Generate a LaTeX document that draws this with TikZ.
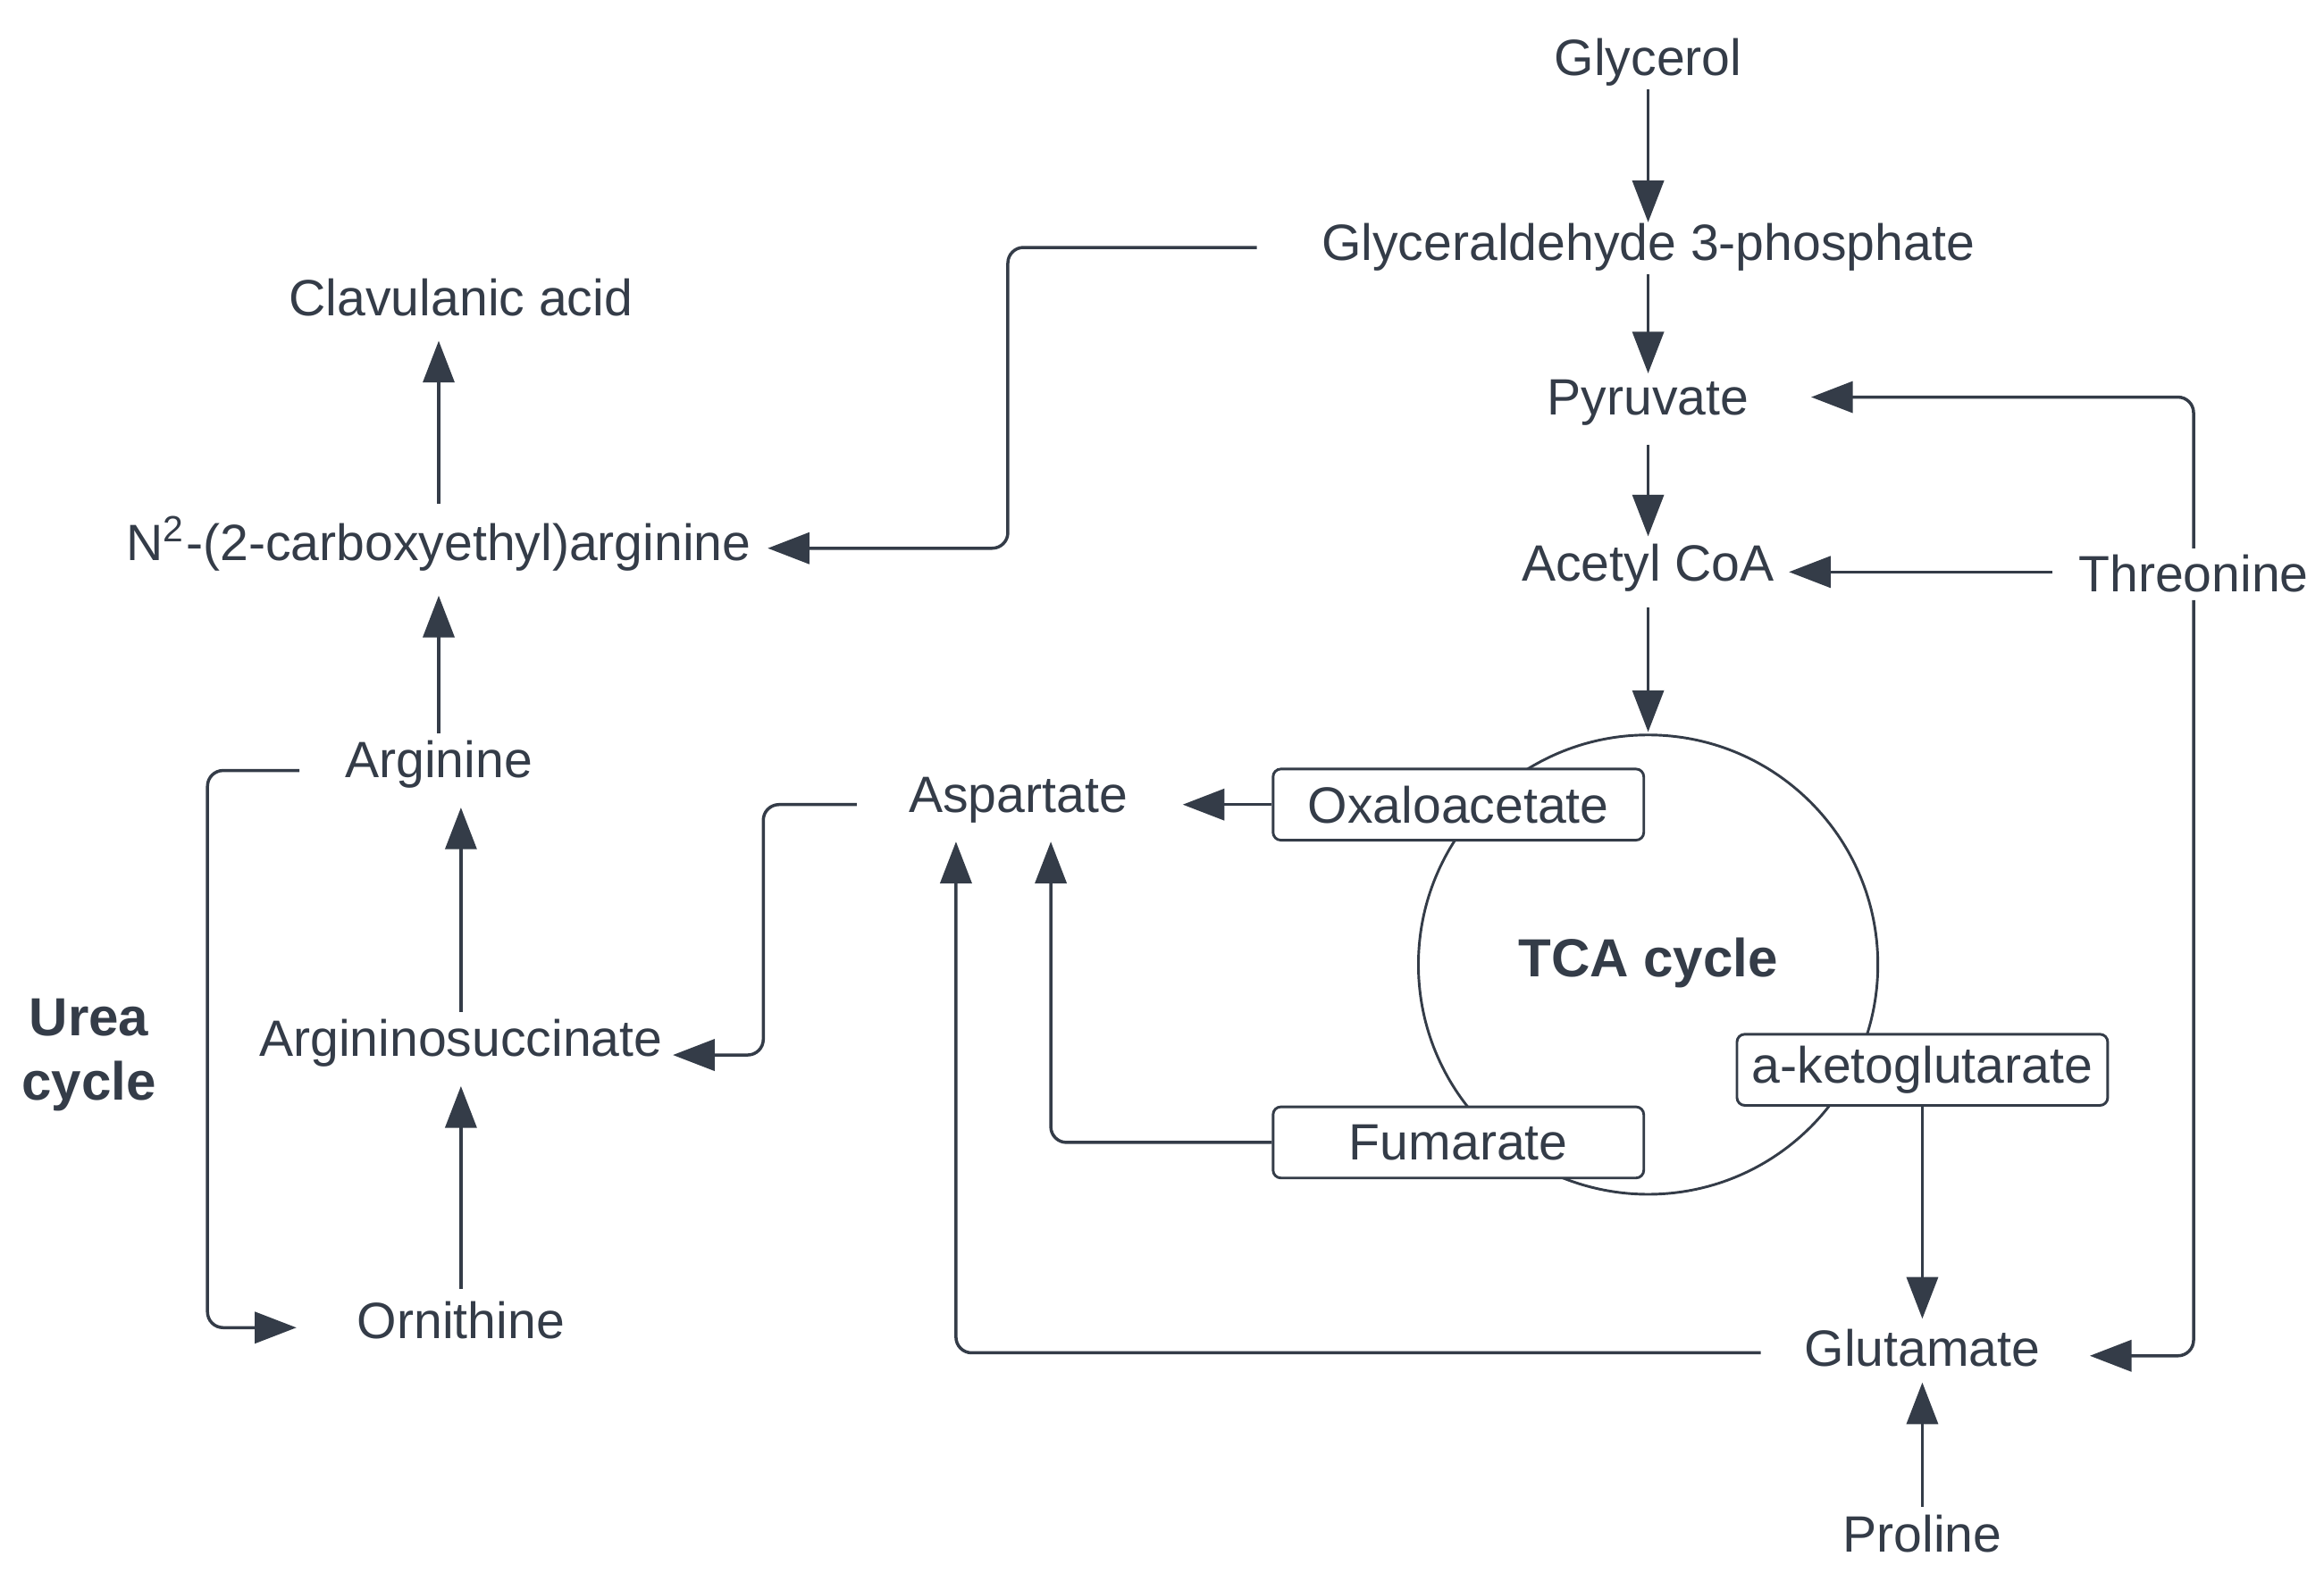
\documentclass[tikz,border=0pt]{standalone}
\usepackage{fontspec}
\setmainfont{Liberation Sans}
\usetikzlibrary{arrows.meta}
\definecolor{ink}{HTML}{343C48}
\begin{document}
\begin{tikzpicture}[x=0.01cm,y=-0.01cm,
  every node/.style={font=\fontsize{9.8pt}{11pt}\selectfont,text=ink,inner sep=0pt},
  box/.style={draw=ink,line width=0.5pt,rounded corners=1.5pt,minimum width=2.5cm,minimum height=0.48cm,fill=white},
  arr/.style={draw=ink,line width=0.6pt,-{Triangle[width=6pt,length=8pt]},rounded corners=3pt}]
\useasboundingbox (0,0) rectangle (1568,1073);
\draw[ink,line width=0.5pt] (1112,651) circle (155);
\node (glycerol) at (1112,42) {Glycerol};
\node (g3p) at (1112,167) {Glyceraldehyde 3-phosphate};
\node (pyr) at (1112,272) {Pyruvate};
\node (acoa) at (1112,383) {Acetyl CoA};
\node (thr) at (1480,387) {Threonine};
\node (clav) at (311,201) {Clavulanic acid};
\node (n2) at (296,367) {N\textsuperscript{\scriptsize 2}-(2-carboxyethyl)arginine};
\node (arg) at (296,516) {Arginine};
\node (asuc) at (311,704) {Argininosuccinate};
\node (orn) at (311,891) {Ornithine};
\node[font=\fontsize{10.3pt}{12.5pt}\selectfont\bfseries,align=center] (urea) at (60,712) {Urea\\cycle};
\node (asp) at (687,540) {Aspartate};
\node[box] (oxa) at (984,543) {Oxaloacetate};
\node[box] (fum) at (984,771) {Fumarate};
\node[box] (akg) at (1297,722) {a-ketoglutarate};
\node[font=\fontsize{10.3pt}{12pt}\selectfont\bfseries] (tca) at (1112,650) {TCA cycle};
\node (glu) at (1297,910) {Glutamate};
\node (pro) at (1297,1035) {Proline};
% main column
\draw[arr] (1112,60) -- (1112,150);
\draw[arr] (1112,185) -- (1112,252);
\draw[arr] (1112,300) -- (1112,362);
\draw[arr] (1112,410) -- (1112,494);
\draw[arr] (1385,386) -- (1207,386);
\draw[arr] (1480,370) |- (1222,268);
\draw[arr] (1480,405) |- (1410,915);
% left
\draw[arr] (848,167) -| (680,370) -- (518,370);
\draw[arr] (296,340) -- (296,230);
\draw[arr] (296,495) -- (296,402);
\draw[arr] (311,683) -- (311,545);
\draw[arr] (311,870) -- (311,733);
\draw[arr] (202,520) -| (140,896) -- (200,896);
\draw[arr] (578,543) -| (515,712) -- (454,712);
% aspartate
\draw[arr] (oxa.west) -- (798,543);
\draw[arr] (fum.west) -| (709,568);
\draw[arr] (1188,913) -| (645,568);
\draw[arr] (akg.south) -- (1297,890);
\draw[arr] (1297,1017) -- (1297,933);
\end{tikzpicture}
\end{document}
